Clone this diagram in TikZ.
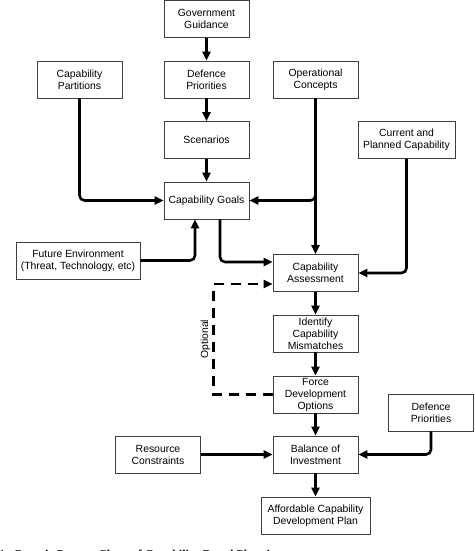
\documentclass[tikz,border=0pt]{standalone}
\usepackage{fontspec}
\setsansfont{Liberation Sans}
\setmainfont{Liberation Serif}
\usetikzlibrary{arrows.meta, positioning}

\begin{document}
\begin{tikzpicture}[x=1pt, y=-1pt,
    box/.style = {draw=black!75, line width=0.8pt, minimum width=85pt, minimum height=37pt,
      inner sep=1pt, align=center, font=\sffamily\fontsize{10.4}{12}\selectfont},
    flow/.style = {line width=2.6pt, -{Triangle[length=9pt, width=8pt]}, rounded corners=5pt},
    optional/.style = {flow, dash pattern=on 10pt off 7pt, rounded corners=0pt}]
    \useasboundingbox (0,0) rectangle (474,551);
    % top row
    \node[box] (gov) at (206.5,19) {Government\\Guidance};
    \node[box] (part) at (79.5,79.5) {Capability\\Partitions};
    \node[box] (dp) at (206.5,79.5) {Defence\\Priorities};
    \node[box] (opc) at (315.5,79.5) {Operational\\Concepts};
    \node[box] (scen) at (206.5,140) {Scenarios};
    \node[box, minimum width=97pt] (cur) at (406.5,140) {Current and\\Planned Capability};
    \node[box] (goals) at (206.5,200.5) {Capability Goals};
    \node[box, minimum width=124pt] (env) at (78,260.5) {Future Environment\\(Threat, Technology, etc)};
    % main column
    \node[box] (assess) at (315.5,273) {Capability\\Assessment};
    \node[box] (mism) at (315.5,333.5) {Identify\\Capability\\Mismatches};
    \node[box] (fdo) at (315.5,394.5) {Force\\Development\\Options};
    \node[box] (dp2) at (431,412.5) {Defence\\Priorities};
    \node[box] (res) at (158,454.5) {Resource\\Constraints};
    \node[box] (boi) at (315.5,454.5) {Balance of\\Investment};
    \node[box, minimum width=109pt] (plan) at (315.5,515.5) {Affordable Capability\\Development Plan};
    \node[anchor=base west, inner sep=0pt, font=\rmfamily\bfseries\fontsize{12}{14}\selectfont]
      (caption) at (-1,558.5) {1: Generic Process Chart of Capability-Based Planning};

    \draw[flow] (gov) -- (dp);
    \draw[flow] (dp) -- (scen);
    \draw[flow] (scen) -- (goals);
    \draw[flow] (part) |- (goals);
    \draw[flow] (opc) |- (goals);
    \draw[flow] (opc) -- (assess);
    \draw[flow] (cur) |- (assess);
    \draw[flow] (env) -| ([xshift=-11.5pt]goals.south);
    \draw[flow] ([xshift=13.5pt]goals.south) |- ([yshift=11pt]assess.west);
    \draw[optional] (fdo.west) -- ++(-59,0)
      |- node[pos=0.25, above, rotate=90, inner sep=2pt, font=\sffamily\fontsize{10.4}{12}\selectfont] (opt) {Optional}
      ([yshift=-11pt]assess.west);
    \draw[flow] (assess) -- (mism);
    \draw[flow] (mism) -- (fdo);
    \draw[flow] (fdo) -- (boi);
    \draw[flow] (res) -- (boi);
    \draw[flow] (dp2) |- (boi);
    \draw[flow] (boi) -- (plan);
\end{tikzpicture}
\end{document}
